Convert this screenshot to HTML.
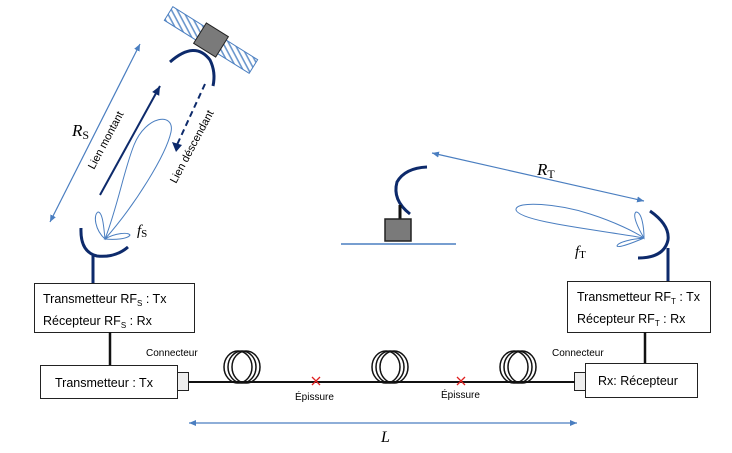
<!DOCTYPE html>
<html><head><meta charset="utf-8"><style>
body{margin:0;background:#fff}
svg{display:block}
text{font-family:"Liberation Sans",sans-serif}
.s{font-family:"Liberation Serif",serif;font-style:italic}
</style></head><body>
<svg width="732" height="453" viewBox="0 0 732 453" xmlns="http://www.w3.org/2000/svg">
<defs>
<marker id="a" markerWidth="8" markerHeight="8" refX="7" refY="4" orient="auto-start-reverse" markerUnits="userSpaceOnUse"><path d="M0,1 L7,4 L0,7 Z" fill="#4a7ec0"/></marker>
<marker id="b" markerWidth="10" markerHeight="10" refX="9" refY="5" orient="auto" markerUnits="userSpaceOnUse"><path d="M0,1 L9,5 L0,9 Z" fill="#0d2a6b"/></marker>
<pattern id="h" width="5" height="5" patternUnits="userSpaceOnUse" patternTransform="rotate(30)"><rect width="5" height="5" fill="#fff"/><rect width="5" height="1.6" fill="#6a96cc"/></pattern>
</defs>
<!-- satellite -->
<g transform="translate(211,40) rotate(32)">
<rect x="-50" y="-8" width="100" height="16" fill="url(#h)" stroke="#4a7ec0"/>
<rect x="-13" y="-12" width="26" height="24" fill="#7a7a7a" stroke="#222"/>
</g>
<path d="M170,62 Q195,40 210,60 Q216,72 213,86" fill="none" stroke="#0d2a6b" stroke-width="3"/>
<!-- RS arrow -->
<line x1="50" y1="222" x2="140" y2="44" stroke="#4a7ec0" stroke-width="1.2" marker-start="url(#a)" marker-end="url(#a)"/>
<text class="s" x="72" y="136" font-size="17">R<tspan font-size="12" font-style="normal" dy="3">S</tspan></text>
<line x1="100" y1="195" x2="160" y2="86" stroke="#0d2a6b" stroke-width="2" marker-end="url(#b)"/>
<text x="0" y="0" font-size="11" transform="translate(94,170) rotate(-62)">Lien montant</text>
<line x1="205" y1="84" x2="176" y2="147" stroke="#0d2a6b" stroke-width="2" stroke-dasharray="6,4"/>
<path d="M176,152 L172,142 L182,145 Z" fill="#0d2a6b"/>
<text x="0" y="0" font-size="11" transform="translate(176,184) rotate(-62)">Lien déscendant</text>
<!-- left lobes -->
<path d="M105,239 C118,205 124,170 134,145 C146,115 175,112 171,132 C166,155 135,205 105,239 Z" fill="none" stroke="#4a7ec0" stroke-width="1"/>
<path d="M105,239 C95,230 93,215 98,212 C103,212 104,230 105,239 Z" fill="none" stroke="#4a7ec0" stroke-width="1"/>
<path d="M105,239 C115,233 128,232 130,235 C128,239 115,240 105,239 Z" fill="none" stroke="#4a7ec0" stroke-width="1"/>
<text class="s" x="137" y="235" font-size="15">f<tspan font-size="11" font-style="normal" dy="2">S</tspan></text>
<path d="M81,228 Q80,252 97,256 Q115,258 128,247" fill="none" stroke="#0d2a6b" stroke-width="3"/>
<line x1="93" y1="255" x2="93" y2="283" stroke="#0d2a6b" stroke-width="3"/>
<!-- ground station -->
<path d="M427,167 Q405,168 397,182 Q392,200 410,214" fill="none" stroke="#0d2a6b" stroke-width="3"/>
<line x1="400" y1="205" x2="400" y2="219" stroke="#111" stroke-width="3"/>
<rect x="385" y="219" width="26" height="22" fill="#7a7a7a" stroke="#222" stroke-width="1.5"/>
<line x1="341" y1="244" x2="456" y2="244" stroke="#4a7ec0" stroke-width="1.5"/>
<line x1="432" y1="153" x2="644" y2="201" stroke="#4a7ec0" stroke-width="1.2" marker-start="url(#a)" marker-end="url(#a)"/>
<text class="s" x="537" y="175" font-size="17">R<tspan font-size="12" font-style="normal" dy="3">T</tspan></text>
<!-- right lobes -->
<path d="M644,238 C600,230 520,222 516,210 C515,200 560,204 590,214 C615,222 635,232 644,238 Z" fill="none" stroke="#4a7ec0" stroke-width="1"/>
<path d="M644,238 C638,228 632,215 636,212 C642,212 644,228 644,238 Z" fill="none" stroke="#4a7ec0" stroke-width="1"/>
<path d="M644,238 C630,244 618,248 617,246 C618,242 632,239 644,238 Z" fill="none" stroke="#4a7ec0" stroke-width="1"/>
<text class="s" x="575" y="256" font-size="15">f<tspan font-size="11" font-style="normal" dy="2">T</tspan></text>
<path d="M650,211 Q670,225 668,240 Q664,258 638,258" fill="none" stroke="#0d2a6b" stroke-width="3"/>
<line x1="668" y1="248" x2="668" y2="281" stroke="#0d2a6b" stroke-width="3"/>
<!-- boxes -->
<rect x="34.5" y="283.5" width="160" height="49" fill="#fff" stroke="#222"/>
<text x="43" y="303" font-size="12.5">Transmetteur RF<tspan font-size="8" dy="3">S</tspan><tspan dy="-3"> : Tx</tspan></text>
<text x="43" y="325" font-size="12.5">Récepteur RF<tspan font-size="8" dy="3">S</tspan><tspan dy="-3"> : Rx</tspan></text>
<line x1="110" y1="332" x2="110" y2="365" stroke="#111" stroke-width="2.5"/>
<rect x="40.5" y="365.5" width="137" height="33" fill="#fff" stroke="#222"/>
<text x="55" y="387" font-size="12.5">Transmetteur : Tx</text>
<rect x="177.5" y="372.5" width="11" height="18" fill="#eee" stroke="#222"/>
<rect x="567.5" y="281.5" width="143" height="51" fill="#fff" stroke="#222"/>
<text x="577" y="301" font-size="12.5">Transmetteur RF<tspan font-size="8" dy="3">T</tspan><tspan dy="-3"> : Tx</tspan></text>
<text x="577" y="323" font-size="12.5">Récepteur RF<tspan font-size="8" dy="3">T</tspan><tspan dy="-3"> : Rx</tspan></text>
<line x1="645" y1="332" x2="645" y2="363" stroke="#111" stroke-width="2.5"/>
<rect x="585.5" y="363.5" width="112" height="34" fill="#fff" stroke="#222"/>
<text x="598" y="385" font-size="12.5">Rx: Récepteur</text>
<rect x="574.5" y="372.5" width="11" height="18" fill="#eee" stroke="#222"/>
<!-- fiber -->
<line x1="189" y1="382" x2="575" y2="382" stroke="#111" stroke-width="2"/>
<g fill="none" stroke="#111" stroke-width="1.5">
<ellipse cx="238" cy="367" rx="14" ry="16"/><ellipse cx="242" cy="367" rx="14" ry="16"/><ellipse cx="246" cy="367" rx="14" ry="16"/>
<ellipse cx="386" cy="367" rx="14" ry="16"/><ellipse cx="390" cy="367" rx="14" ry="16"/><ellipse cx="394" cy="367" rx="14" ry="16"/>
<ellipse cx="514" cy="367" rx="14" ry="16"/><ellipse cx="518" cy="367" rx="14" ry="16"/><ellipse cx="522" cy="367" rx="14" ry="16"/>
</g>
<g stroke="#e02020" stroke-width="1.3">
<line x1="312" y1="377" x2="320" y2="385"/><line x1="320" y1="377" x2="312" y2="385"/>
<line x1="457" y1="377" x2="465" y2="385"/><line x1="465" y1="377" x2="457" y2="385"/>
</g>
<text x="295" y="400" font-size="10">Épissure</text>
<text x="441" y="398" font-size="10">Épissure</text>
<text x="146" y="356" font-size="10">Connecteur</text>
<text x="552" y="356" font-size="10">Connecteur</text>
<line x1="189" y1="423" x2="577" y2="423" stroke="#4a7ec0" stroke-width="1.2" marker-start="url(#a)" marker-end="url(#a)"/>
<text class="s" x="381" y="442" font-size="16">L</text>
</svg>
</body></html>
